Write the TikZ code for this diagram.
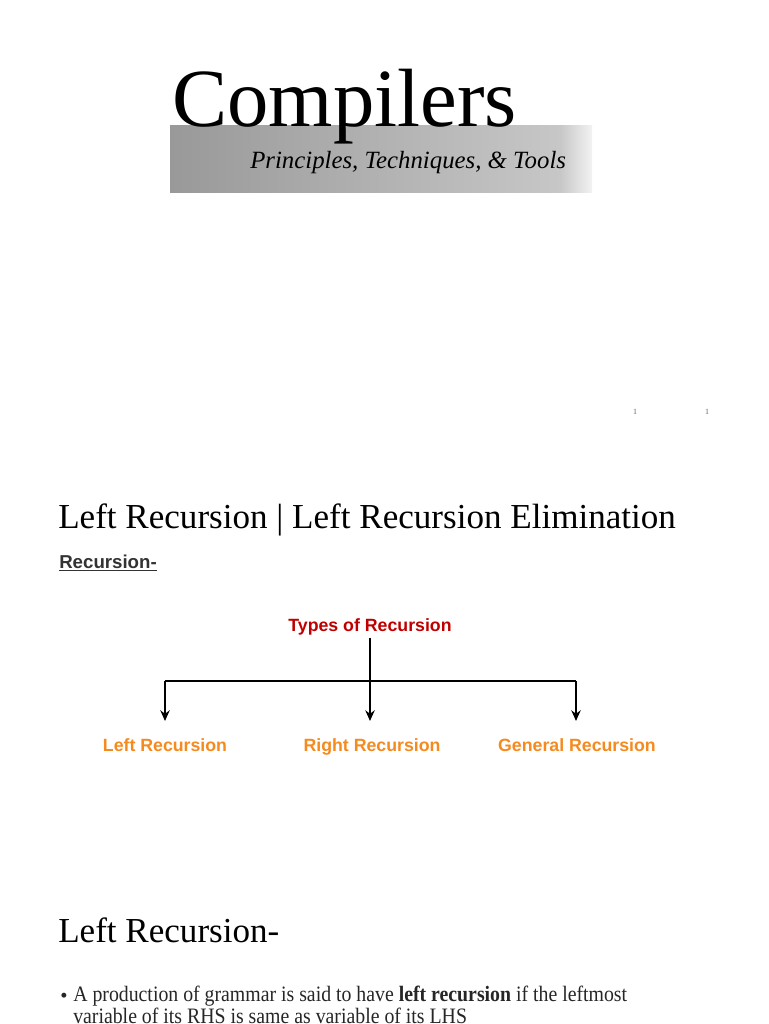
\documentclass[tikz,border=0pt]{standalone}
\usepackage{fontspec}
\setmainfont{Liberation Serif}
\setsansfont{Liberation Sans}
\newfontfamily\condserif[FakeStretch=0.9]{Liberation Serif}
\usetikzlibrary{arrows.meta,fadings}
\definecolor{redt}{HTML}{C00000}
\definecolor{oranget}{HTML}{F58A1F}
\tikzset{
  conn/.style={line width=1.3pt},
  arr/.style={conn,-{Stealth[length=8pt,width=7pt]}},
  child/.style={anchor=base,inner sep=0,font=\sffamily\bfseries\fontsize{13.3}{15}\selectfont,text=oranget}
}
\begin{document}
\begin{tikzpicture}[x=0.75pt,y=-0.75pt]
\useasboundingbox (0,0) rectangle (768,1024);
\clip (0,0) rectangle (768,1024);
\fill[white] (0,0) rectangle (768,1024);
% logo band
\shade[left color=black!40,right color=black!22] (170,125) rectangle (560,192);
\shade[left color=black!22,right color=black!5] (560,125) rectangle (592,192);
\node[anchor=base west,inner sep=0,font=\fontsize{62}{70}\selectfont] (comp) at (172,127) {Compilers};
\node[anchor=base west,inner sep=0,font=\itshape\fontsize{18.6}{20}\selectfont] (sub) at (250,168) {Principles, Techniques, \& Tools};
\node[inner sep=0,font=\fontsize{6}{7}\selectfont,text=black!60] (n1) at (635,412) {1};
\node[inner sep=0,font=\fontsize{6}{7}\selectfont,text=black!60] (n2) at (707,412) {1};
% title
\node[anchor=base west,inner sep=0,font=\fontsize{26.3}{30}\selectfont] (title) at (58,528) {Left Recursion | Left Recursion Elimination};
\node[anchor=base west,inner sep=0,font=\sffamily\bfseries\fontsize{14}{16}\selectfont,text=black!80] (rec) at (59,568) {\underline{Recursion-}};
% diagram
\node[inner sep=2pt,font=\sffamily\bfseries\fontsize{13.3}{15}\selectfont,text=redt] (types) at (370,627) {Types of Recursion};
\node[child] (left) at (165,751) {Left Recursion};
\node[child] (right) at (372,751) {Right Recursion};
\node[child] (gen) at (577,751) {General Recursion};
\coordinate (jl) at (165,681);
\coordinate (jr) at (576,681);
\draw[arr] (types.south) -- (370,721);
\draw[conn] (jl) -- (jr);
\draw[arr] (jl) -- (165,721);
\draw[arr] (jr) -- (576,721);
% section
\node[anchor=base west,inner sep=0,font=\fontsize{26.3}{30}\selectfont] (lr) at (58,942) {Left Recursion-};
\node[anchor=base west,inner sep=0,font=\fontsize{15.5}{17.5}\selectfont,text=black!85] (bul) at (60,1002) {•};
\node[anchor=north west,inner sep=0,font=\condserif\fontsize{16.5}{16.5}\selectfont,text=black!85,align=left] (txt) at (73,986) {A production of grammar is said to have \textbf{left recursion} if the leftmost\\variable of its RHS is same as variable of its LHS};
\end{tikzpicture}
\end{document}
